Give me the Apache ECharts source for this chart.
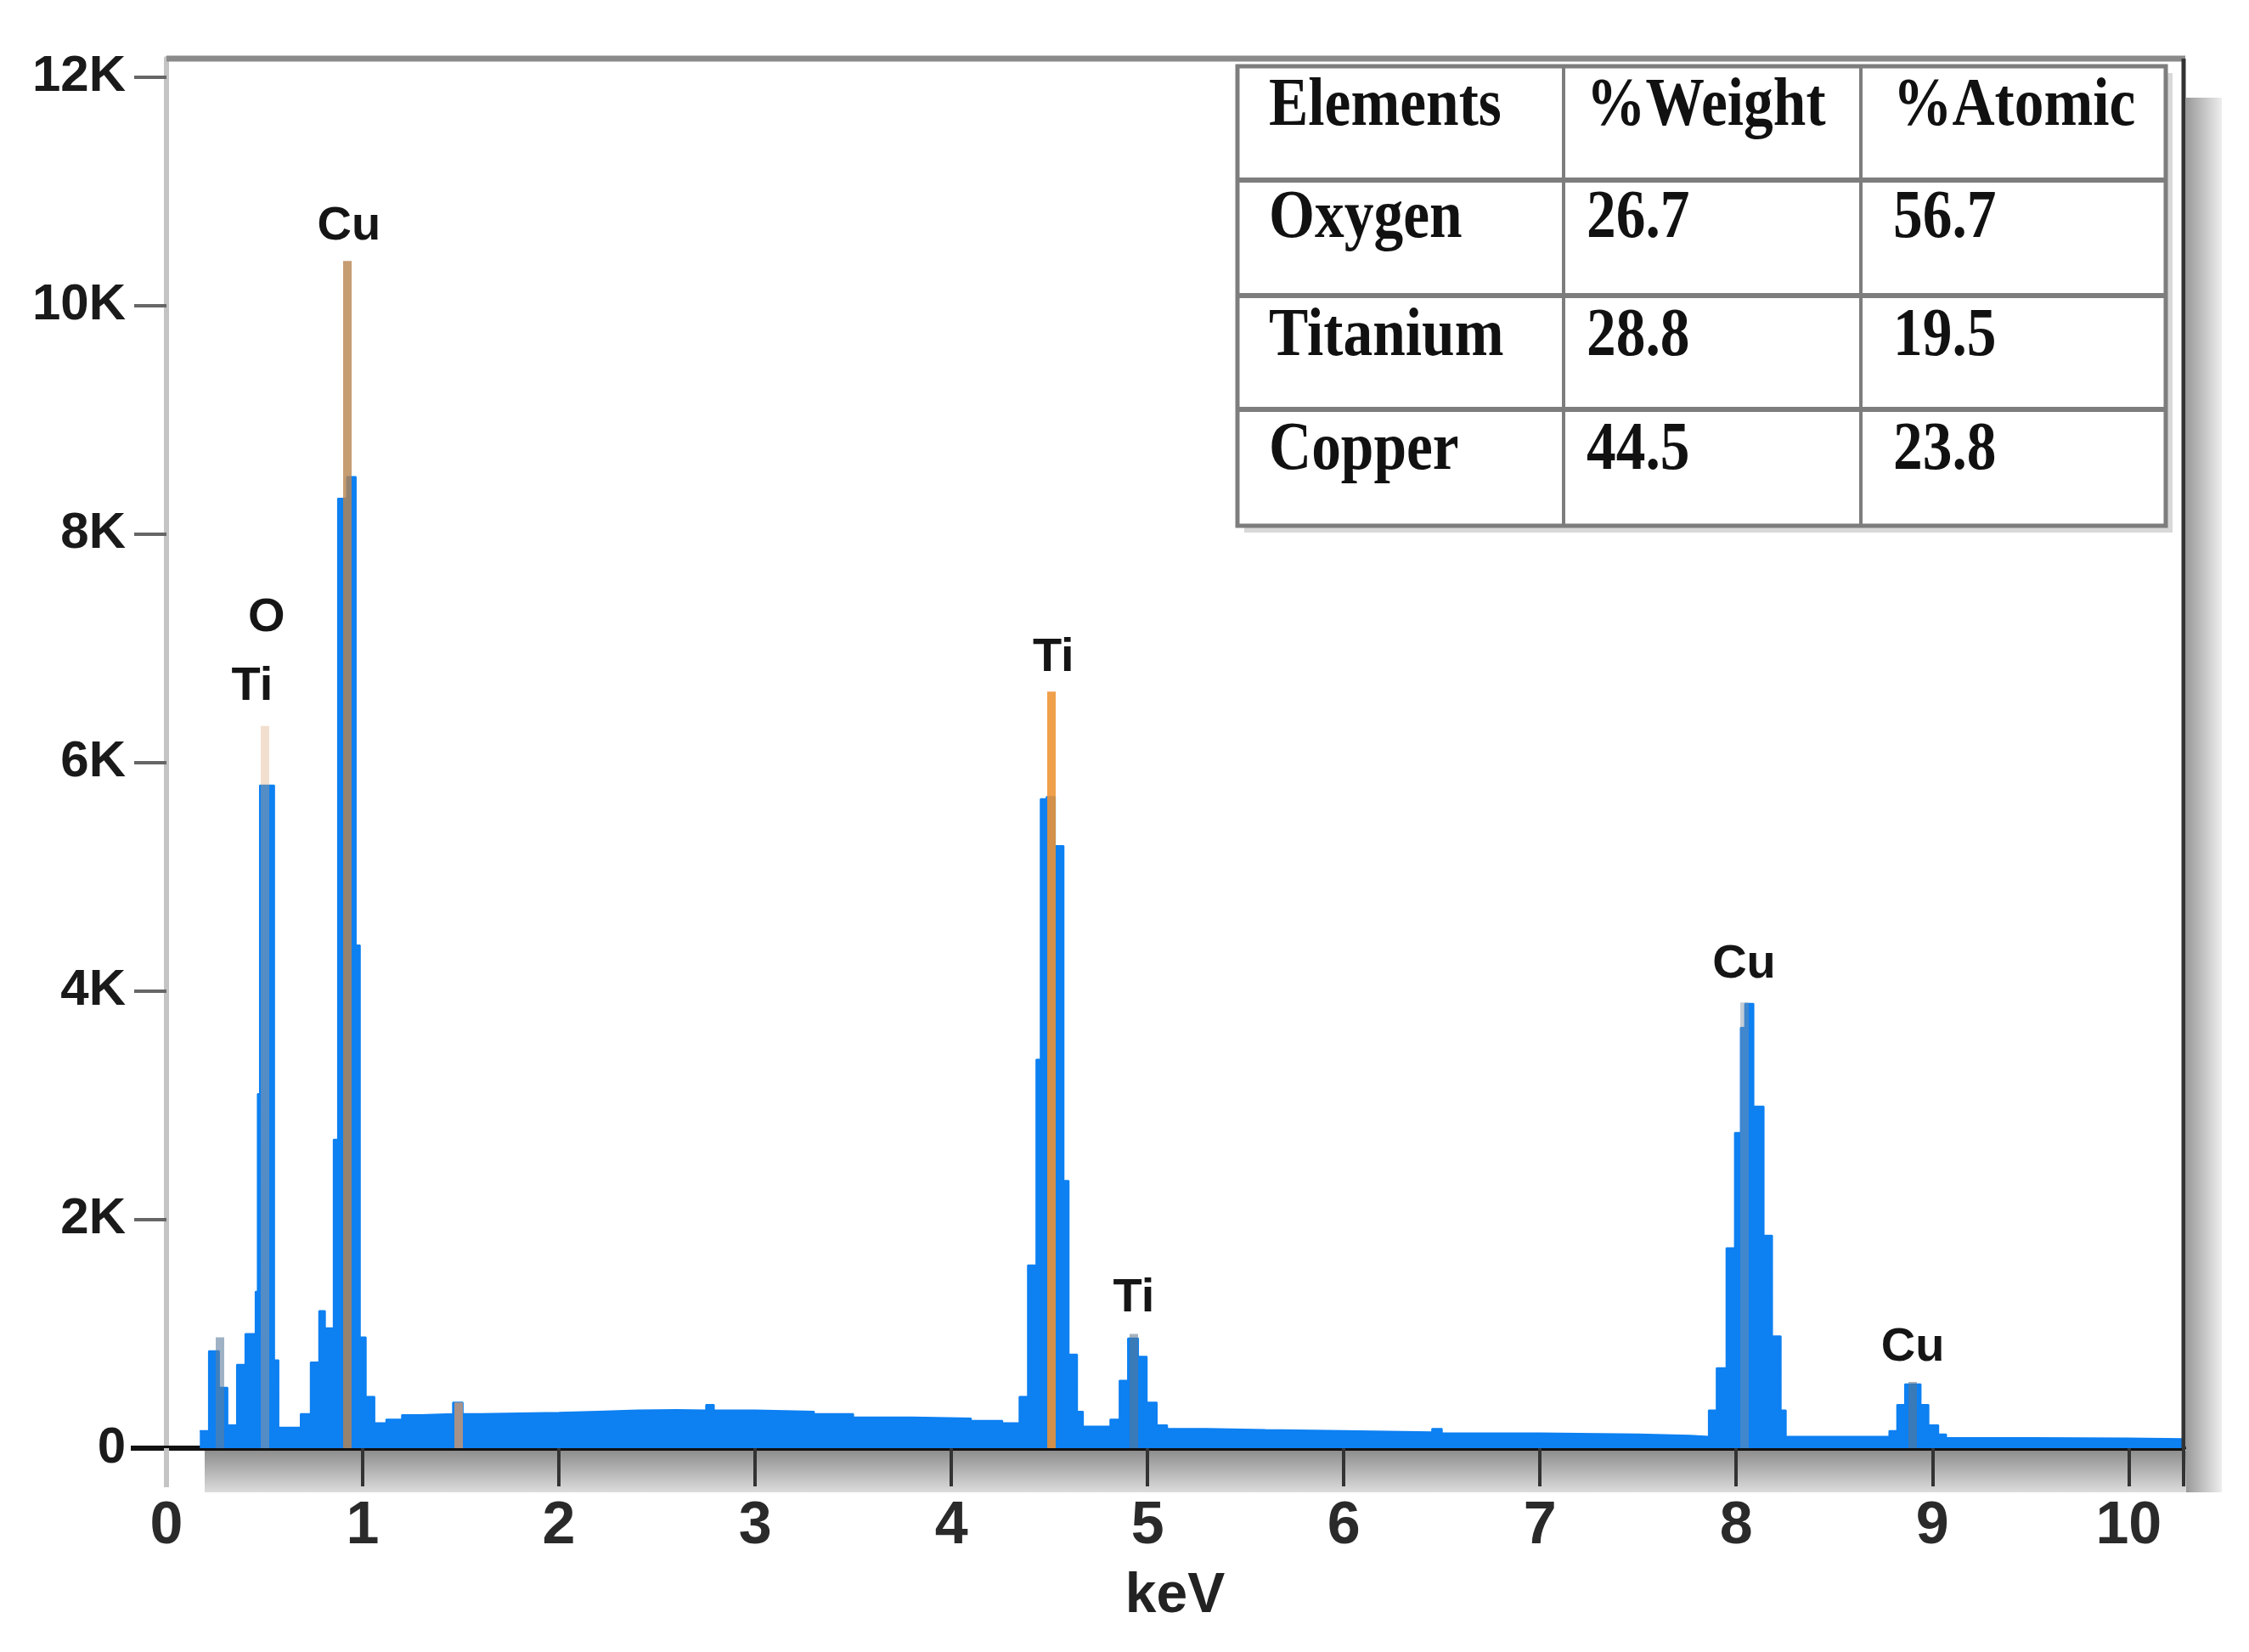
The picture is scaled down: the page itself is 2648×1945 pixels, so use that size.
<!DOCTYPE html>
<html>
<head>
<meta charset="utf-8">
<script src="https://cdn.jsdelivr.net/npm/echarts@6/dist/echarts.min.js"></script>
<style>
html,body{margin:0;padding:0;background:#fff;}
#chart{width:2648px;height:1945px;}
</style>
</head>
<body>
<div id="chart"></div>
<script>
// ---- Spectrum data (bin start energy in keV, counts) ----
const energy = [0.17, 0.216, 0.268, 0.311, 0.359, 0.402, 0.454, 0.465, 0.476, 0.549, 0.571, 0.684, 0.735, 0.778, 0.808, 0.852, 0.874, 0.92, 0.965, 0.986, 1.016, 1.06, 1.12, 1.2, 1.3, 1.46, 1.51, 1.6, 1.8, 2.0, 2.2, 2.4, 2.6, 2.75, 2.79, 3.0, 3.3, 3.5, 3.8, 4.1, 4.26, 4.347, 4.39, 4.433, 4.455, 4.485, 4.528, 4.572, 4.598, 4.641, 4.671, 4.81, 4.857, 4.9, 4.952, 4.996, 5.047, 5.1, 5.3, 5.6, 6.0, 6.45, 6.5, 7.0, 7.5, 7.764, 7.86, 7.9, 7.95, 7.993, 8.023, 8.045, 8.088, 8.14, 8.183, 8.227, 8.253, 8.5, 8.78, 8.82, 8.86, 8.94, 8.98, 9.03, 9.07, 9.5, 10.0, 10.28];
const counts = [150, 850, 530, 200, 730, 1000, 1370, 3100, 5800, 770, 180, 300, 750, 1200, 1050, 2700, 8310, 8500, 4400, 970, 450, 220, 250, 290, 300, 400, 300, 305, 310, 320, 330, 335, 330, 380, 330, 320, 300, 270, 260, 240, 220, 450, 1600, 3400, 5680, 5700, 5270, 2340, 820, 320, 190, 250, 590, 960, 800, 400, 200, 170, 160, 150, 140, 170, 130, 120, 110, 100, 330, 700, 1750, 2760, 3680, 3890, 2990, 1860, 980, 330, 100, 100, 150, 380, 560, 380, 200, 120, 90, 85, 80, 80];

// ---- Element marker lines ----
const markerKeV    = [0.27, 0.50, 0.92, 1.49, 4.51, 4.93, 8.04, 8.90];
const markerTop    = [970, 6320, 10390, 400, 6620, 1000, 3900, 580];
const markerColor  = ['#5f7f9f', '#d9a272', '#b8834e', '#e89a60', '#ee9232', '#5f7489', '#7f90a2', '#5f7489'];
const markerAlpha  = [0.6, 0.35, 0.8, 0.7, 0.88, 0.55, 0.45, 0.55];

// ---- Peak labels ----
const peakText   = ['O', 'Ti', 'Cu', 'Ti', 'Ti', 'Cu', 'Cu'];
const peakKeV    = [0.51, 0.437, 0.93, 4.52, 4.93, 8.04, 8.90];
const peakCounts = [7266, 6660, 10690, 6915, 1310, 4230, 877];

// ---- Axis ticks ----
const xTicks = [0, 1, 2, 3, 4, 5, 6, 7, 8, 9, 10];
const yTickLabels = ['0', '2K', '4K', '6K', '8K', '10K', '12K'];

// ---- Composition table ----
const tableHeader = ['Elements', '%Weight', '%Atomic'];
const elementNames = ['Oxygen', 'Titanium', 'Copper'];
const weightPct = ['26.7', '28.8', '44.5'];
const atomicPct = ['56.7', '19.5', '23.8'];

const narrow = "'Liberation Sans Narrow','Arial Narrow','Liberation Sans',Arial,sans-serif";
const serif = "'Liberation Serif','Times New Roman',serif";
const blue = '#0d80f2';

const chart = echarts.init(document.getElementById('chart'), null, {renderer: 'canvas'});

const spectrum = energy.map((e, i) => [e, counts[i]]);

const markLines = markerKeV.map((k, i) => [
  {coord: [k, 0], lineStyle: {color: markerColor[i], width: 10, opacity: markerAlpha[i], type: 'solid'}},
  {coord: [k, markerTop[i]]}
]);

// table graphics
const G = [];
const tL = 1457, tR = 2550, cols = [1457, 1841, 2191, 2550];
const rows = [78, 212, 348, 482, 619];
const tableRows = [tableHeader].concat(elementNames.map((n, i) => [n, weightPct[i], atomicPct[i]]));
const textX = [1494, 1868, 2229];
const baseOff = [74, 72, 75, 75];
G.push({type: 'rect', shape: {x: tL + 8, y: rows[0] + 8, width: tR - tL, height: rows[4] - rows[0]},
  style: {fill: '#d8d8d8'}, z: 9});
G.push({type: 'rect', shape: {x: tL, y: rows[0], width: tR - tL, height: rows[4] - rows[0]},
  style: {fill: '#fff', stroke: '#7d7d7d', lineWidth: 5}, z: 10});
rows.slice(1, 4).forEach(y => G.push({type: 'line', shape: {x1: tL, y1: y, x2: tR, y2: y},
  style: {stroke: '#7d7d7d', lineWidth: 6}, z: 10}));
cols.slice(1, 3).forEach(x => G.push({type: 'line', shape: {x1: x, y1: rows[0], x2: x, y2: rows[4]},
  style: {stroke: '#7d7d7d', lineWidth: 4}, z: 10}));
tableRows.forEach((r, ri) => {
  r.forEach((t, ci) => {
    G.push({type: 'text', x: textX[ci], y: rows[ri] + baseOff[ri] - 26, scaleX: 0.89, scaleY: 1.04, z: 11,
      style: {text: t, fontFamily: serif, fontWeight: 'bold', fontSize: 78, fill: '#111',
        align: 'left', verticalAlign: 'middle'}});
  });
});

// frame decorations
const gL = 196, gR = 2571, gT = 69, gB = 1705;
G.push({type: 'rect', shape: {x: 241, y: gB + 3, width: 2616 - 241, height: 1757 - gB - 3}, z: -1,
  style: {fill: new echarts.graphic.LinearGradient(0, 0, 0, 1, [{offset: 0, color: '#8e8e8e'}, {offset: 1, color: '#dcdcdc'}])}});
G.push({type: 'rect', shape: {x: gR + 3, y: 115, width: 2616 - gR - 3, height: 1757 - 115}, z: -1,
  style: {fill: new echarts.graphic.LinearGradient(0, 0, 1, 0, [{offset: 0, color: '#9a9a9a'}, {offset: 1, color: '#eeeeee'}])}});
G.push({type: 'line', shape: {x1: gL, y1: gT, x2: gR + 2, y2: gT}, style: {stroke: '#8a8a8a', lineWidth: 7}, z: 5});
G.push({type: 'line', shape: {x1: gR, y1: gT, x2: gR, y2: gB}, style: {stroke: '#333', lineWidth: 5}, z: 5});
G.push({type: 'line', shape: {x1: 154, y1: gB, x2: gL, y2: gB}, style: {stroke: '#111', lineWidth: 6}, z: 5});
G.push({type: 'line', shape: {x1: gL, y1: gB, x2: gL, y2: 1751}, style: {stroke: '#c4c4c4', lineWidth: 6}, z: 5});

const option = {
  backgroundColor: '#fff',
  animation: false,
  grid: {left: gL, right: 2648 - gR, top: gT, bottom: 1945 - gB, containLabel: false},
  xAxis: {
    type: 'value', min: 0, max: 10.28, interval: 1,
    name: 'keV', nameLocation: 'middle', nameGap: 142,
    nameTextStyle: {fontFamily: narrow, fontWeight: 'bold', fontSize: 66, color: '#222'},
    axisLine: {show: true, onZero: false, lineStyle: {color: '#111', width: 6}},
    axisTick: {show: true, length: 45, lineStyle: {color: '#333', width: 4}},
    axisLabel: {margin: 58, fontFamily: narrow, fontWeight: 'bold', fontSize: 70, color: '#2a2a2a',
      formatter: v => (xTicks.indexOf(v) >= 0 ? String(v) : '')},
    splitLine: {show: false}
  },
  yAxis: {
    type: 'value', min: 0, max: 12160, interval: 2000,
    axisLine: {show: true, lineStyle: {color: '#c4c4c4', width: 6}},
    axisTick: {show: true, length: 38, lineStyle: {color: '#666', width: 4}},
    axisLabel: {margin: 48, fontFamily: narrow, fontWeight: 'bold', fontSize: 60, color: '#1a1a1a',
      formatter: v => yTickLabels[Math.round(v / 2000)] || ''},
    splitLine: {show: false}
  },
  series: [
    {
      type: 'line', data: spectrum, step: 'end', symbol: 'none', z: 2,
      lineStyle: {color: blue, width: 2},
      areaStyle: {color: blue, opacity: 1},
      markLine: {silent: true, symbol: ['none', 'none'], label: {show: false}, data: markLines, z: 3}
    },
    {
      type: 'scatter', symbolSize: 0, z: 4,
      itemStyle: {opacity: 1},
      data: peakKeV.map((k, i) => ({value: [k, peakCounts[i]], name: peakText[i]})),
      label: {show: true, position: 'inside', formatter: p => p.name,
        fontFamily: narrow, fontWeight: 'bold', fontSize: 56, color: '#151515'}
    }
  ],
  graphic: {elements: G}
};
chart.setOption(option);
</script>
</body>
</html>
